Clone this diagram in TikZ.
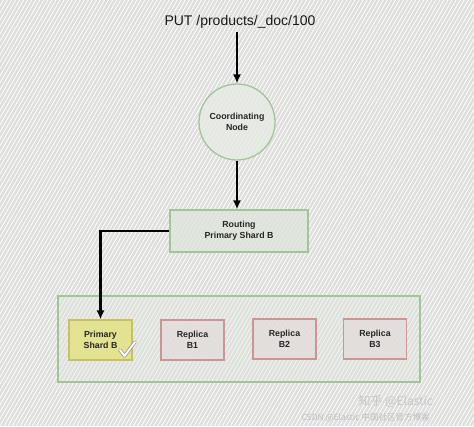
\documentclass[tikz,border=0pt]{standalone}
\usepackage{fontspec}
\setmainfont{Liberation Sans}
\newfontfamily\cjk{Noto Sans CJK SC}
\usetikzlibrary{arrows.meta,patterns.meta}
\definecolor{bgc}{HTML}{DEDFDD}
\definecolor{grn}{HTML}{A3C49A}
\definecolor{grnfill}{HTML}{DEE5DA}
\definecolor{circfill}{HTML}{E6EAE4}
\definecolor{yel}{HTML}{E3E38A}
\definecolor{yelline}{HTML}{C6C066}
\definecolor{pinkline}{HTML}{C99595}
\definecolor{pinkfill}{HTML}{E3DDDC}
\tikzset{
  conn/.style={line width=2.2pt,-{Latex[length=9pt,width=8pt]}},
  lbl/.style={font=\bfseries\fontsize{8.8}{10.8}\selectfont,align=center,text=black!85},
  shard/.style={lbl,draw=pinkline,fill=pinkfill,line width=1.2pt,minimum width=63pt,minimum height=40pt,inner sep=0pt},
  prim/.style={shard,draw=yelline,fill=yel},
}
\begin{document}
\begin{tikzpicture}[x=1pt,y=-1pt]
\useasboundingbox (0,0) rectangle (474,426);
\fill[bgc] (0,0) rectangle (474,426);
\fill[pattern={Lines[angle=60,distance=3.5pt,line width=0.8pt]},pattern color=white] (0,0) rectangle (474,426);
% title
\node[font=\fontsize{14}{16}\selectfont,text=black!90] (put) at (240,22) {PUT /products/\_doc/100};
% coordinating node
\node[circle,draw=grn,fill=circfill,fill opacity=0.8,text opacity=1,line width=1.3pt,minimum size=76pt,inner sep=0pt,lbl] (coord) at (237,122) {Coordinating\\Node};
% routing
\node[lbl,draw=grn,fill=grnfill,fill opacity=0.8,text opacity=1,line width=1.3pt,minimum width=138pt,minimum height=42pt] (route) at (239,231) {Routing\\Primary Shard B};
% container
\node[draw=grn,line width=1.3pt,fill=grnfill,fill opacity=0.35,minimum width=362pt,minimum height=86pt] (cont) at (239,339) {};
% shards
\node[prim,fill opacity=0.9,text opacity=1] (pb) at (100.5,340) {Primary\\Shard B};
\node[shard,fill opacity=0.8,text opacity=1] (b1) at (192.5,340) {Replica\\B1};
\node[shard,fill opacity=0.8,text opacity=1] (b2) at (284.5,339) {Replica\\B2};
\node[shard,fill opacity=0.8,text opacity=1] (b3) at (375,339) {Replica\\B3};
% check mark
\coordinate (c1) at (120,350);
\coordinate (c2) at (124.5,356);
\coordinate (c3) at (135,342);
\draw[black!45,line width=3.4pt,line cap=round,line join=round] (c1) -- (c2) -- (c3);
\draw[white,line width=2pt,line cap=round,line join=round] (c1) -- (c2) -- (c3);
% connectors
\draw[conn] (put.south -| coord.north) -- (coord.north);
\draw[conn] (coord.south) -- (route.north -| coord.south);
\draw[conn] (route.west) -| (pb.north);
% watermarks
\node[text=white!55!gray,font=\cjk\fontsize{12}{14}\selectfont,anchor=west] (wm1) at (355,401) {知乎 @Elastic};
\node[text=white!50!gray,font=\cjk\fontsize{8.5}{10}\selectfont,anchor=west] (wm2) at (298,418) {CSDN @Elastic 中国社区官方博客};
\end{tikzpicture}
\end{document}
